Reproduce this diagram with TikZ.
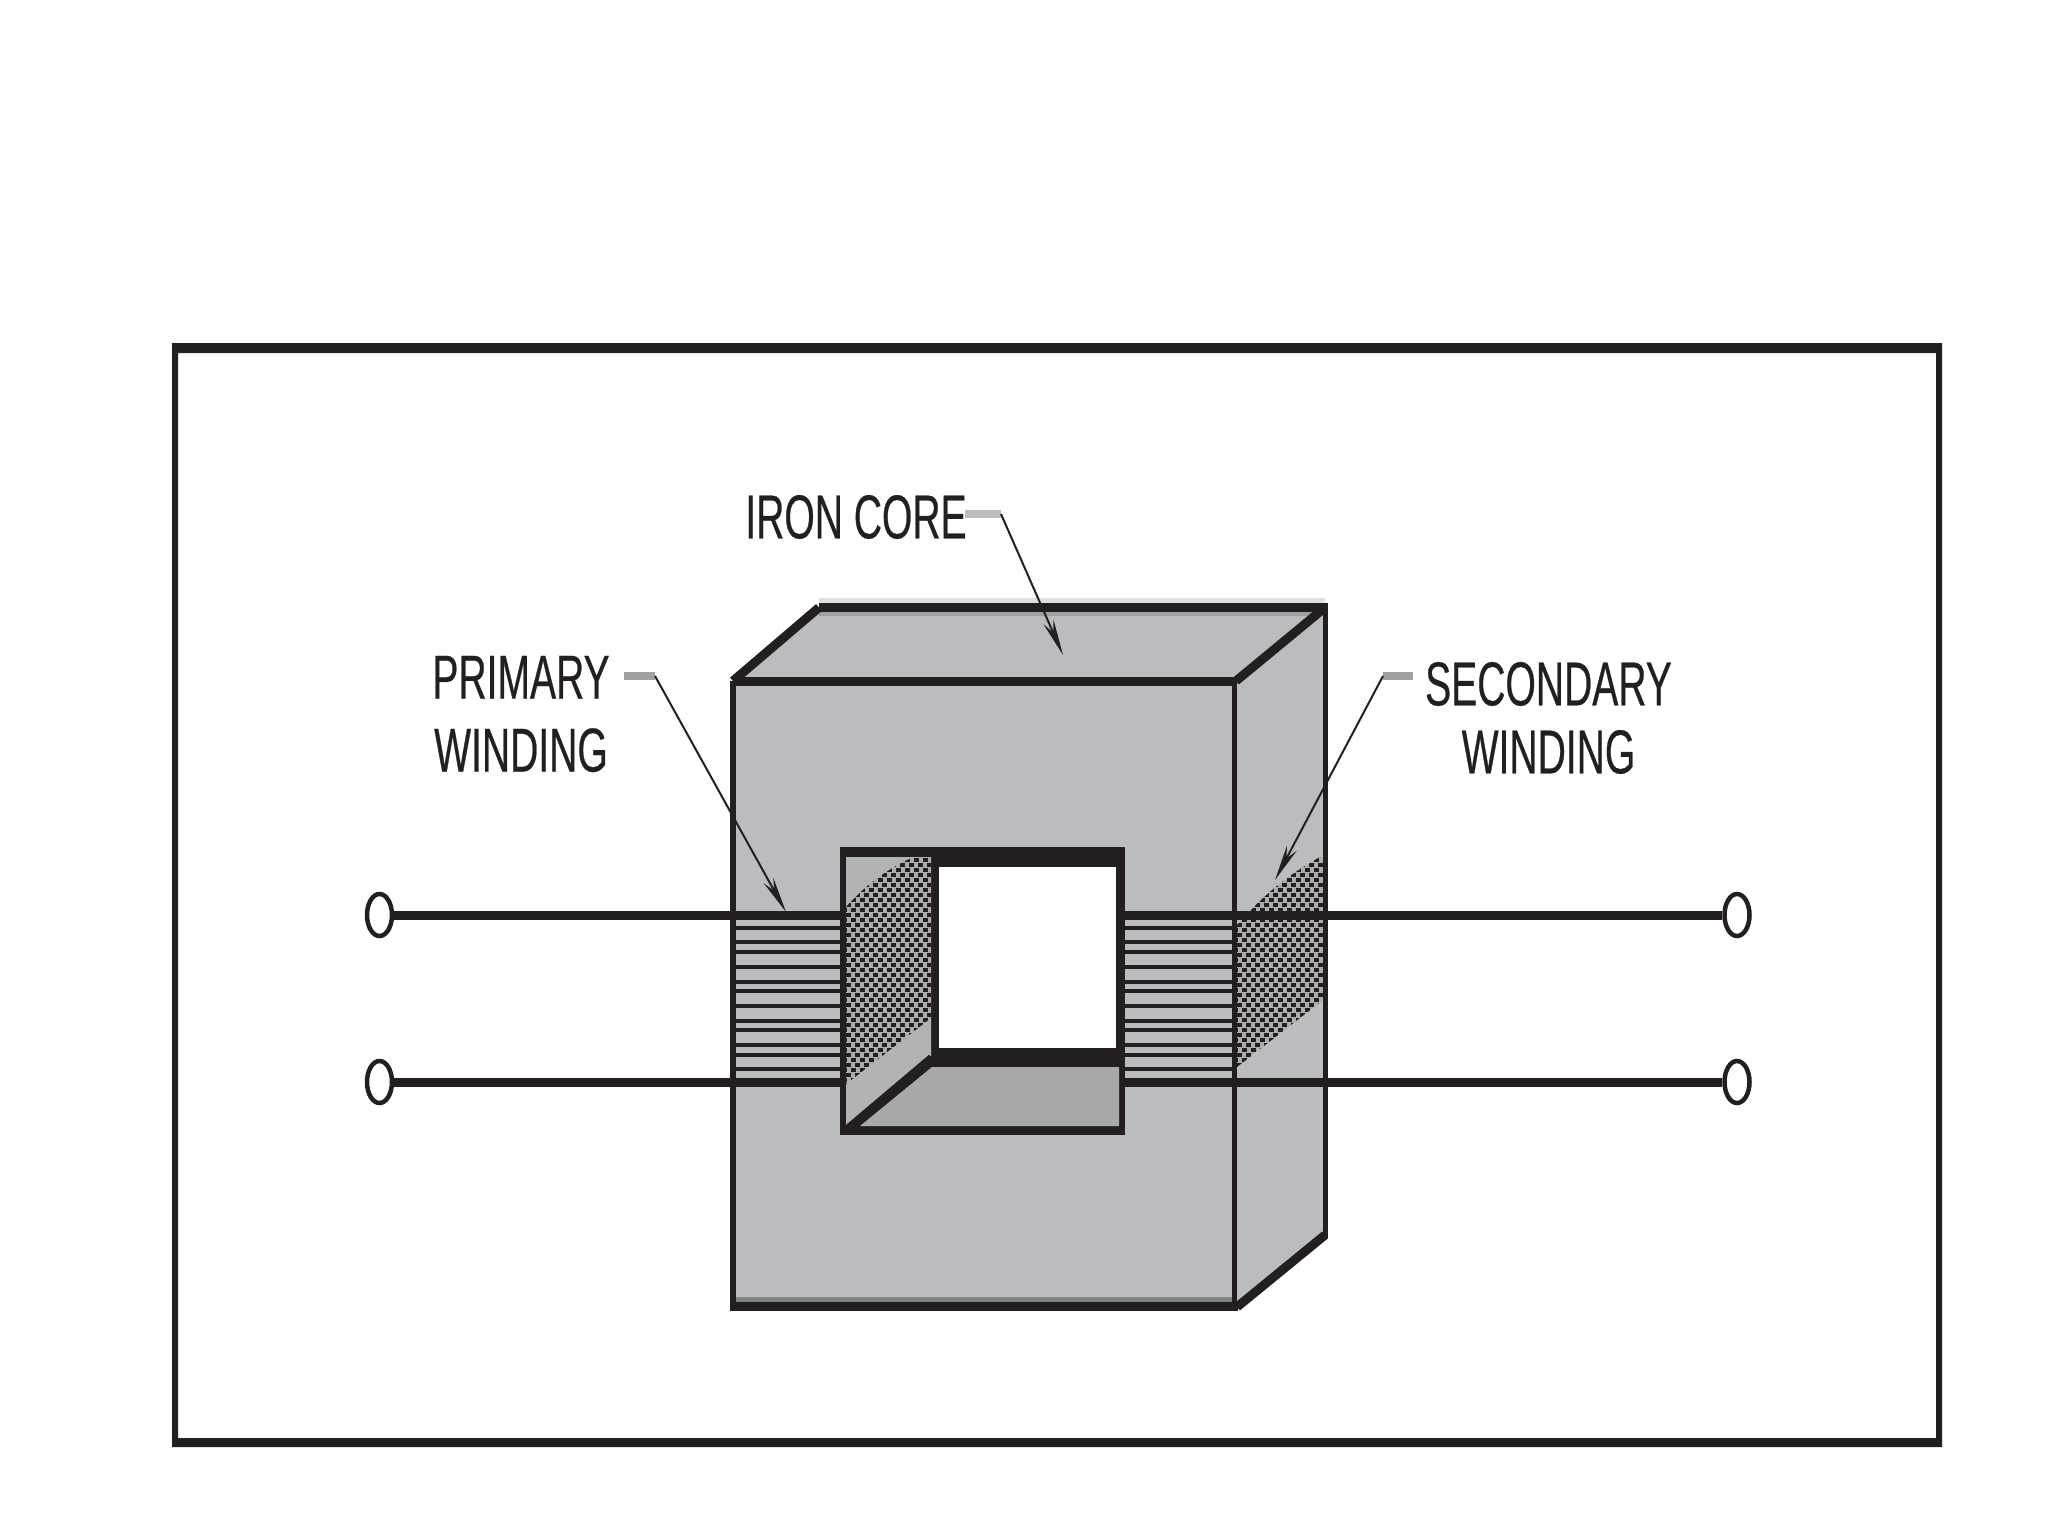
\documentclass[tikz,border=0pt]{standalone}
\usepackage{xcolor}
\usepackage{fontspec}
\usepackage{tikz}
\usetikzlibrary{arrows.meta, shapes.geometric}
\newfontfamily\labelfont[FakeStretch=0.63, FakeBold=0.4]{Liberation Sans}
\definecolor{colorCore}{HTML}{BBBCBF}
\definecolor{colorInner}{HTML}{A8A9AB}
\definecolor{colorPanel}{HTML}{B2B3B5}
\definecolor{colorInk}{HTML}{231F20}
\tikzset{
  wire/.style={colorInk, line width=9pt},
  coreedge/.style={colorInk, line width=5pt},
  heavyedge/.style={colorInk, line width=9pt},
  coilturn/.style={colorInk, line width=4.5pt},
  checker/.style={colorInk, line width=4pt, dash pattern=on 5pt off 4pt},
  terminal/.style={ellipse, draw=colorInk, line width=4.5pt, fill=white, minimum width=25pt, minimum height=42pt, inner sep=0pt},
  textlabel/.style={font=\labelfont\fontsize{62}{73}\selectfont, text=colorInk, align=center, inner sep=0pt},
  stub/.style={colorCore, line width=8pt},
  darkstub/.style={gray!75, line width=8pt},
  leader/.style={colorInk, line width=2pt, -{Stealth[length=36pt, width=11pt]}},
}
\newcommand{\checkerrows}[2]{%
  \foreach \r in {0,...,46} {
    \pgfmathsetmacro{\ry}{855+5*\r}
    \pgfmathsetmacro{\ph}{4.5*mod(\r,2)}
    \draw[checker, dash phase=\ph pt] (#1,\ry) -- (#2,\ry);
  }
}
\begin{document}
\begin{tikzpicture}[x=1pt, y=-1pt]
  \useasboundingbox (0,0) rectangle (2048,1536);
  % outer frame
  \fill[colorInk, even odd rule] (172,343) rectangle (1942,1447) (178,353) rectangle (1936,1438);

  % core faces
  \fill[gray!25] (819,598) rectangle (1325,604);
  \fill[colorCore] (733,681) -- (819,607) -- (1325,607) -- (1325,1236) -- (1234,1306) -- (733,1306) -- cycle;
  \fill[colorCore!85!black] (819,612) rectangle (1318,616);
  \fill[colorCore!70!black] (736,1297) rectangle (1232,1302);

  % window
  \fill[colorInk] (840,847) rectangle (1125,1135);
  \fill[white] (939,867) rectangle (1116,1048);
  \fill[colorPanel] (846,857) -- (931,857) -- (931,1056) -- (846,1127) -- cycle;
  \fill[colorInner] (932,1067) -- (1119,1067) -- (1119,1126) -- (860,1126) -- cycle;
  \draw[colorInk, line width=6pt] (931,1057) -- (847,1128);

  % winding seen inside the window
  \begin{scope}
    \clip (846,907) .. controls (870,880) and (895,865) .. (914,857) -- (931,857) -- (931,1018) -- (846,1084) -- cycle;
    \fill[gray!65] (846,857) rectangle (931,1090);
    \checkerrows{846}{931}
  \end{scope}

  % winding seen on the side face
  \begin{scope}
    \clip (1237,925) -- (1253,908) .. controls (1275,885) and (1300,868) .. (1320,857) -- (1323,857) -- (1323,1000) -- (1237,1067) -- cycle;
    \fill[gray!65] (1237,857) rectangle (1323,1070);
    \checkerrows{1237}{1323}
  \end{scope}

  % turns on the front face
  \foreach \y in {928,942,952,967,982,991,1006,1021,1030,1045,1055,1069} {
    \draw[coilturn] (736,\y) -- (840,\y);
    \draw[coilturn] (1125,\y) -- (1232,\y);
  }

  % core edges
  \draw[heavyedge] (733,681) -- (1236,681);
  \draw[heavyedge] (819,607.5) -- (1327,607.5);
  \draw[heavyedge] (733,681) -- (819,607.5);
  \draw[heavyedge] (1236,681) -- (1325,607.5);
  \draw[heavyedge] (730,1306.5) -- (1238,1306.5);
  \draw[heavyedge] (1237,1307) -- (1325,1235);
  \draw[coreedge, line width=6pt] (733,681) -- (733,1310);
  \draw[coreedge] (1234.5,681) -- (1234.5,1310);
  \draw[coreedge] (1325,603) -- (1325,1238);

  % terminals and wires
  \node[terminal] (inA) at (379.5,915) {};
  \node[terminal] (inB) at (379.5,1082) {};
  \node[terminal] (outA) at (1737,915) {};
  \node[terminal] (outB) at (1737,1082) {};
  \coordinate (coilLA) at (845,915);
  \coordinate (coilLB) at (845,1082);
  \coordinate (coilRA) at (1125,915);
  \coordinate (coilRB) at (1125,1082);
  \draw[wire] (inA) -- (coilLA);
  \draw[wire] (inB) -- (coilLB);
  \draw[wire] (coilRA) -- (outA);
  \draw[wire] (coilRB) -- (outB);

  % labels
  \node[textlabel] (ironCore) at (856,517) {IRON CORE};
  \node[textlabel] (primary) at (521,714) {PRIMARY\\WINDING};
  \node[textlabel] (secondary) at (1548.5,718) {SECONDARY\\[-5pt]WINDING};

  \coordinate (coreKnee) at (1001,514);
  \coordinate (coreTip) at (1063,655);
  \coordinate (priKnee) at (655,676);
  \coordinate (priTip) at (786,912);
  \coordinate (secKnee) at (1383,676);
  \coordinate (secTip) at (1275,880);
  \draw[stub] (coreKnee) -- ++(-36,0);
  \draw[darkstub] (priKnee) -- ++(-31,0);
  \draw[darkstub] (secKnee) -- ++(30,0);
  \draw[leader] (coreKnee) -- (coreTip);
  \draw[leader] (priKnee) -- (priTip);
  \draw[leader] (secKnee) -- (secTip);
\end{tikzpicture}
\end{document}
